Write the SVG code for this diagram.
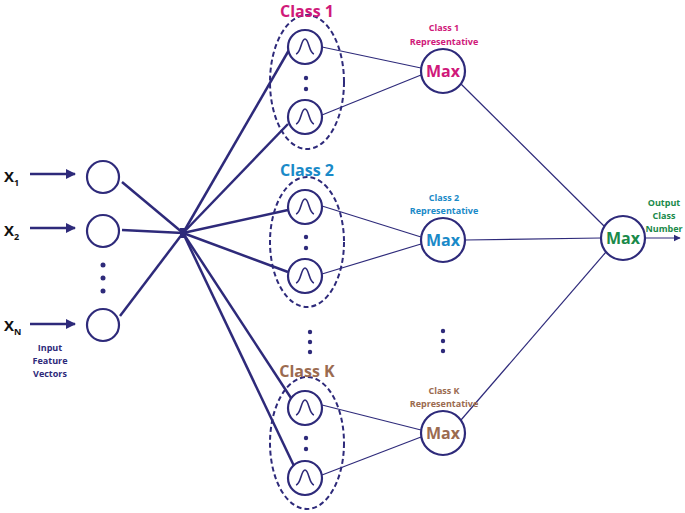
<svg xmlns="http://www.w3.org/2000/svg" width="685" height="513" viewBox="0 0 685 513">
<defs>
<style>
.n{fill:#fff;stroke:#2e2a7a;stroke-width:2.2}
.e{fill:none;stroke:#2e2a7a;stroke-width:2;stroke-dasharray:5,3}
.t{font-family:"Open Sans","Liberation Sans",sans-serif;font-weight:bold}
.k{fill:none;stroke:#2e2a7a;stroke-width:1.6}
.d{fill:#2e2a7a}
</style>
<marker id="a" viewBox="0 0 10 10" refX="9" refY="5" markerWidth="4" markerHeight="4" orient="auto"><path d="M0,0L10,5L0,10z" fill="#2e2a7a"/></marker>
<marker id="s" viewBox="0 0 10 10" refX="9" refY="5" markerWidth="6" markerHeight="6" orient="auto"><path d="M0,0L10,5L0,10z" fill="#2e2a7a"/></marker>
</defs>
<g id="connectors" stroke="#2e2a7a" fill="none">
<g stroke-width="2.5">
<line x1="30" y1="174" x2="75" y2="174" marker-end="url(#a)"/>
<line x1="30" y1="228" x2="75" y2="228" marker-end="url(#a)"/>
<line x1="30" y1="324" x2="75" y2="324" marker-end="url(#a)"/>
<line x1="122" y1="182" x2="183" y2="233"/>
<line x1="122" y1="230" x2="183" y2="233"/>
<line x1="120" y1="316" x2="183" y2="233"/>
<line x1="183" y1="233" x2="289" y2="50"/>
<line x1="183" y1="233" x2="288" y2="124"/>
<line x1="183" y1="233" x2="288" y2="210"/>
<line x1="183" y1="233" x2="288" y2="272"/>
<line x1="183" y1="233" x2="291" y2="398"/>
<line x1="183" y1="233" x2="294" y2="466"/>
</g>
<rect x="180" y="228" width="5" height="10" fill="#2e2a7a" stroke="none"/>
<g stroke-width="1.2">
<line x1="322" y1="47" x2="421" y2="68"/>
<line x1="322" y1="115" x2="421" y2="75"/>
<line x1="322" y1="206" x2="421" y2="237"/>
<line x1="322" y1="274" x2="421" y2="244"/>
<line x1="322" y1="405" x2="421" y2="430"/>
<line x1="322" y1="475" x2="421" y2="437"/>
<line x1="461" y1="84" x2="604" y2="226"/>
<line x1="465" y1="240" x2="601" y2="238"/>
<line x1="461" y1="420" x2="606" y2="252"/>
<line x1="645" y1="238" x2="680" y2="238" marker-end="url(#s)"/>
</g>
</g>
<g id="inputs">
<circle class="n" cx="103" cy="177" r="16"/>
<circle class="n" cx="103" cy="231" r="16"/>
<circle class="n" cx="103" cy="325" r="16"/>
<circle class="d" cx="103" cy="265" r="2.5"/><circle class="d" cx="103" cy="278" r="2.5"/><circle class="d" cx="103" cy="291" r="2.5"/>
<text class="t" x="4" y="182" font-size="15" fill="#111">X<tspan font-size="9" dy="4">1</tspan></text>
<text class="t" x="4" y="236" font-size="15" fill="#111">X<tspan font-size="9" dy="4">2</tspan></text>
<text class="t" x="4" y="331" font-size="15" fill="#111">X<tspan font-size="9" dy="4">N</tspan></text>
<text class="t" font-size="9" fill="#2e2a7a" text-anchor="middle"><tspan x="50" y="351">Input</tspan><tspan x="50" y="364">Feature</tspan><tspan x="50" y="377">Vectors</tspan></text>
</g>
<g id="class1">
<ellipse class="e" cx="307" cy="82" rx="37" ry="67"/>
<text class="t" x="307" y="17" font-size="16" fill="#d0197a" text-anchor="middle">Class 1</text>
<circle class="n" cx="305" cy="47" r="17"/><path class="k" d="M296,54C301,53 301,39 305,39S309,53 314,54"/>
<circle class="n" cx="305" cy="117" r="17"/><path class="k" d="M296,124C301,123 301,109 305,109S309,123 314,124"/>
<circle class="d" cx="306" cy="78" r="2.2"/><circle class="d" cx="306" cy="89" r="2.2"/>
</g>
<g id="class2">
<ellipse class="e" cx="307" cy="242" rx="37" ry="65"/>
<text class="t" x="307" y="176" font-size="16" fill="#1a8ac8" text-anchor="middle">Class 2</text>
<circle class="n" cx="305" cy="207" r="17"/><path class="k" d="M296,214C301,213 301,199 305,199S309,213 314,214"/>
<circle class="n" cx="305" cy="276" r="17"/><path class="k" d="M296,283C301,282 301,268 305,268S309,282 314,283"/>
<circle class="d" cx="306" cy="237" r="2.2"/><circle class="d" cx="306" cy="248" r="2.2"/>
</g>
<g id="dots">
<circle class="d" cx="310" cy="332" r="2.2"/><circle class="d" cx="310" cy="342" r="2.2"/><circle class="d" cx="310" cy="352" r="2.2"/>
<circle class="d" cx="443" cy="331" r="2.2"/><circle class="d" cx="443" cy="341" r="2.2"/><circle class="d" cx="443" cy="351" r="2.2"/>
</g>
<g id="classK">
<ellipse class="e" cx="307" cy="443" rx="37" ry="66"/>
<text class="t" x="307" y="377" font-size="16" fill="#9b6b50" text-anchor="middle">Class K</text>
<circle class="n" cx="305" cy="408" r="17"/><path class="k" d="M296,415C301,414 301,400 305,400S309,414 314,415"/>
<circle class="n" cx="305" cy="478" r="17"/><path class="k" d="M296,485C301,484 301,470 305,470S309,484 314,485"/>
<circle class="d" cx="306" cy="438" r="2.2"/><circle class="d" cx="306" cy="449" r="2.2"/>
</g>
<g id="max1">
<text class="t" font-size="9" fill="#d0197a" text-anchor="middle"><tspan x="444" y="31">Class 1</tspan><tspan x="444" y="45">Representative</tspan></text>
<circle class="n" cx="443" cy="71" r="22"/>
<text class="t" x="443" y="77" font-size="16" fill="#d0197a" text-anchor="middle">Max</text>
</g>
<g id="max2">
<text class="t" font-size="9" fill="#1a8ac8" text-anchor="middle"><tspan x="444" y="201">Class 2</tspan><tspan x="444" y="214">Representative</tspan></text>
<circle class="n" cx="443" cy="240" r="22"/>
<text class="t" x="443" y="246" font-size="16" fill="#1a8ac8" text-anchor="middle">Max</text>
</g>
<g id="maxK">
<text class="t" font-size="9" fill="#9b6b50" text-anchor="middle"><tspan x="444" y="394">Class K</tspan><tspan x="444" y="407">Representative</tspan></text>
<circle class="n" cx="443" cy="433" r="22"/>
<text class="t" x="443" y="439" font-size="16" fill="#9b6b50" text-anchor="middle">Max</text>
</g>
<g id="output">
<circle class="n" cx="623" cy="238" r="22"/>
<text class="t" x="623" y="244" font-size="16" fill="#1a8a4a" text-anchor="middle">Max</text>
<text class="t" font-size="9" fill="#1a8a4a" text-anchor="middle"><tspan x="664" y="206">Output</tspan><tspan x="664" y="219">Class</tspan><tspan x="664" y="232">Number</tspan></text>
</g>
</svg>
